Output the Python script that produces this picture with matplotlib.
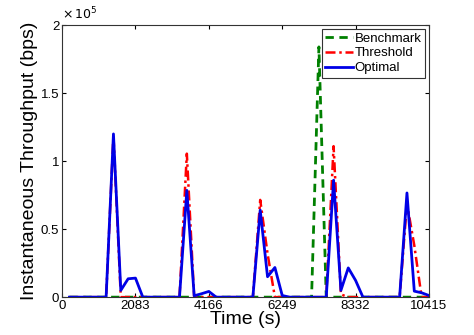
import matplotlib
matplotlib.use('Agg')
import matplotlib.pyplot as plt
import numpy as np

plt.rcParams['font.family'] = ['Liberation Sans', 'DejaVu Sans']

# sample index 1..50, one sample every 208.3 s
step = 10415 / 50
time = np.arange(1, 51) * step

benchmark = [0, 0, 0, 0, 0, 0, 0, 0, 0, 0,
             0, 0, 0, 0, 0, 0, 0, 0, 0, 0,
             0, 0, 0, 0, 0, 0, 0, 0, 0, 0,
             0, 0, 0, 0, 184000, 0, 0, 0, 0, 0,
             0, 0, 0, 0, 0, 0, 0, 0, 0, 0]

threshold = [0, 0, 0, 0, 0, 0, 119000, 0, 0, 0,
             0, 0, 0, 0, 0, 0, 105500, 0, 0, 0,
             0, 0, 0, 0, 0, 0, 71500, 32000, 0, 0,
             0, 0, 0, 0, 0, 0, 111000, 2000, 0, 0,
             0, 0, 0, 0, 0, 0, 69000, 38000, 0, 0]

optimal = [0, 0, 0, 0, 0, 0, 120000, 5000, 13500, 14000,
           0, 0, 0, 0, 0, 0, 78500, 1000, 2500, 4200,
           0, 0, 0, 0, 0, 0, 64000, 15000, 21800, 1200,
           0, 0, 0, 0, 0, 0, 86000, 5000, 21500, 12300,
           0, 0, 0, 0, 0, 0, 76600, 4400, 3200, 1200]

xticks = [0, 2083, 4166, 6249, 8332, 10415]
yticks = [0, 50000, 100000, 150000, 200000]
ytick_labels = ['0', '0.5', '1', '1.5', '2']

fig = plt.figure(figsize=(4.74, 3.35), dpi=100)
ax = fig.add_axes([0.131, 0.113, 0.774, 0.812])

ax.plot(time, benchmark, color='#008000', linestyle=(0, (3, 2)), linewidth=2, label='Benchmark')
ax.plot(time, threshold, color='#ff0000', linestyle=(0, (4, 1.5, 1, 1.5)), linewidth=1.8, label='Threshold')
ax.plot(time, optimal, color='#0000e6', linestyle='-', linewidth=2, label='Optimal')

ax.set_xlim(0, 10415)
ax.set_ylim(0, 200000)
ax.set_xticks(xticks)
ax.set_xticklabels([str(t) for t in xticks])
ax.set_yticks(yticks)
ax.set_yticklabels(ytick_labels)
ax.tick_params(direction='in', top=True, right=True, labelsize=9.5, length=3, pad=2)
for s in ax.spines.values():
    s.set_linewidth(0.8)
    s.set_color('#333333')

ax.text(0.0, 1.01, r'$\times\,10^5$', transform=ax.transAxes, fontsize=9, ha='left', va='bottom')

ax.set_xlabel('Time (s)', fontsize=14, labelpad=-1)
ax.set_ylabel('Instantaneous Throughput (bps)', fontsize=14, labelpad=2)

leg = ax.legend(loc='upper right', fontsize=9.5, handlelength=2.1, handletextpad=0.15,
                borderpad=0.25, labelspacing=0.2, fancybox=False, framealpha=1,
                borderaxespad=0.3)
leg.get_frame().set_edgecolor('#333333')
leg.get_frame().set_linewidth(0.8)

fig.savefig('out.png', dpi=100)
